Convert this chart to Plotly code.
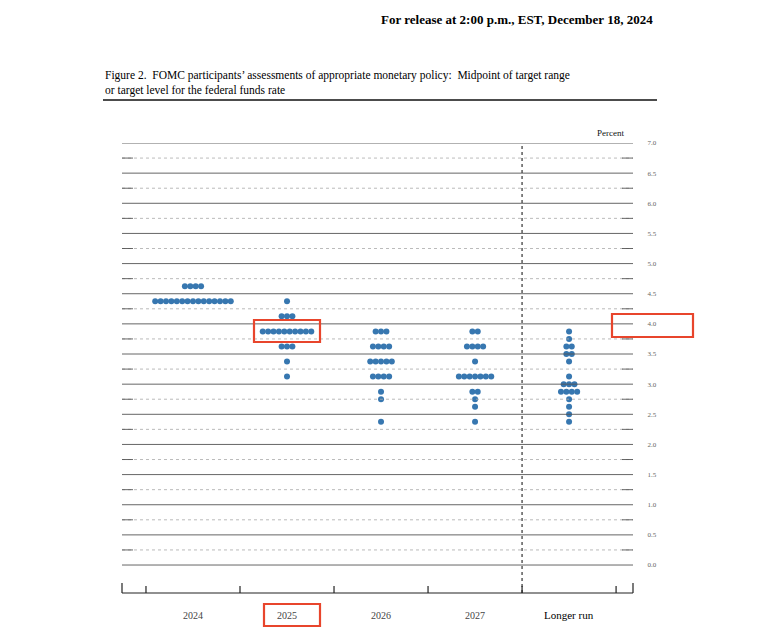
import plotly.graph_objects as go

# FOMC dot plot, December 2024
columns = ['2024', '2025', '2026', '2027', 'Longer run']
rates_2024 = [4.625, 4.375]
counts_2024 = [4, 15]
rates_2025 = [4.375, 4.125, 3.875, 3.625, 3.375, 3.125]
counts_2025 = [1, 3, 10, 3, 1, 1]
rates_2026 = [3.875, 3.625, 3.375, 3.125, 2.875, 2.75, 2.375]
counts_2026 = [3, 4, 5, 4, 1, 1, 1]
rates_2027 = [3.875, 3.625, 3.375, 3.125, 2.875, 2.75, 2.625, 2.375]
counts_2027 = [2, 4, 1, 7, 2, 1, 1, 1]
rates_lr = [3.875, 3.75, 3.625, 3.5, 3.375, 3.125, 3.0, 2.875, 2.75, 2.625, 2.5, 2.375]
counts_lr = [1, 1, 2, 2, 1, 1, 3, 4, 1, 1, 1, 1]
ytick_vals = [i * 0.5 for i in range(15)]

OFF = 8  # page body margin
W, H = 768 - OFF, 640 - OFF
L, R, T, B = 122, 633, 143, 593  # plot area in screen pixels
X0, X1 = 0.245, 5.68
Y0, Y1 = -0.464, 7.0
step = 0.0574  # horizontal spacing between dots in x units

xs, ys = [], []
all_data = [(rates_2024, counts_2024), (rates_2025, counts_2025), (rates_2026, counts_2026),
            (rates_2027, counts_2027), (rates_lr, counts_lr)]
for ci, (rates, counts) in enumerate(all_data):
    for r, n in zip(rates, counts):
        for k in range(n):
            xs.append(ci + 1 + (k - (n - 1) / 2) * step)
            ys.append(r)

fig = go.Figure()
fig.add_trace(go.Scatter(x=xs, y=ys, mode='markers', cliponaxis=False,
                         marker=dict(size=6, color='#3777b0'), hoverinfo='skip'))

serif = 'Liberation Serif'
shapes = []
grey = '#555'
ends = (0.0215 * (X1 - X0))
for i in range(29):
    v = i * 0.25
    if i % 2 == 0:
        shapes.append(dict(type='line', xref='x', yref='y', x0=X0, x1=X1, y0=v, y1=v,
                           line=dict(color=grey, width=0.9)))
    else:
        shapes.append(dict(type='line', xref='x', yref='y', x0=X0, x1=X1, y0=v, y1=v,
                           line=dict(color='#aaa', width=0.8, dash='dot')))
        for a in (X0, X1 - ends):
            shapes.append(dict(type='line', xref='x', yref='y', x0=a, x1=a + ends, y0=v, y1=v,
                               line=dict(color=grey, width=0.9)))
# separator before longer run
shapes.append(dict(type='line', xref='x', yref='paper', x0=4.5, x1=4.5, y0=0, y1=1,
                   line=dict(color='#333', width=1.2, dash='dot')))
# bottom axis with end ticks
shapes.append(dict(type='line', xref='paper', yref='paper', x0=0, x1=1, y0=0, y1=0,
                   line=dict(color='#222', width=1.2)))
for xp in (0, 1):
    shapes.append(dict(type='line', xref='paper', yref='paper', x0=xp, x1=xp, y0=0, y1=10 / (B - T),
                       line=dict(color='#222', width=1.2)))
for xv in (0.5, 1.5, 2.5, 3.5, 4.5, 5.5):
    shapes.append(dict(type='line', xref='x', yref='paper', x0=xv, x1=xv, y0=0, y1=7 / (B - T),
                       line=dict(color='#222', width=1.2)))


def px(x):
    return (x - L) / (R - L)


def py(y):
    return (B - y) / (B - T)


# red highlight boxes
for (a, b, c, d) in [(254, 320, 320, 342), (612, 693, 314, 337), (264, 320, 604, 626)]:
    shapes.append(dict(type='rect', xref='paper', yref='paper', x0=px(a), x1=px(b), y0=py(d), y1=py(c),
                       line=dict(color='#e8452c', width=2.2)))
# rule under title
shapes.append(dict(type='line', xref='paper', yref='paper', x0=px(103), x1=px(657), y0=py(100), y1=py(100),
                   line=dict(color='#111', width=1.5)))

annotations = []
for i, c in enumerate(columns):
    annotations.append(dict(x=i + 1, y=py(615), xref='x', yref='paper', yanchor='middle', text=c,
                            showarrow=False,
                            font=dict(family=serif, size=10 if i < 4 else 11,
                                      color='#444' if i < 4 else '#000')))
annotations.append(dict(x=px(626), y=py(133), xref='paper', yref='paper', yanchor='middle', text='Percent',
                        showarrow=False, font=dict(family=serif, size=9, color='#111')))
annotations.append(dict(x=px(655), y=py(20), xref='paper', yref='paper', xanchor='right', yanchor='middle',
                        showarrow=False,
                        text='<b>For release at 2:00 p.m., EST, December 18, 2024</b>',
                        font=dict(family=serif, size=13, color='#000')))
annotations.append(dict(x=px(103), y=py(67), xref='paper', yref='paper', xanchor='left', yanchor='top',
                        align='left', showarrow=False,
                        text="Figure 2.  FOMC participants’ assessments of appropriate monetary policy:  Midpoint of target range<br>or target level for the federal funds rate",
                        font=dict(family=serif, size=11.5, color='#000')))

fig.update_layout(
    width=W, height=H, plot_bgcolor='white', paper_bgcolor='white', showlegend=False,
    margin=dict(l=L - OFF, r=768 - R, t=T - OFF, b=640 - B),
    xaxis=dict(range=[X0, X1], showgrid=False, zeroline=False, showticklabels=False, ticks=''),
    yaxis=dict(range=[Y0, Y1], side='right', showgrid=False, zeroline=False,
               tickvals=ytick_vals, ticktext=['%.1f' % v for v in ytick_vals],
               ticks='outside', ticklen=12, tickcolor='rgba(0,0,0,0)',
               tickfont=dict(family=serif, size=7, color='#666')),
    shapes=shapes, annotations=annotations,
)
fig.write_html('out.html')
